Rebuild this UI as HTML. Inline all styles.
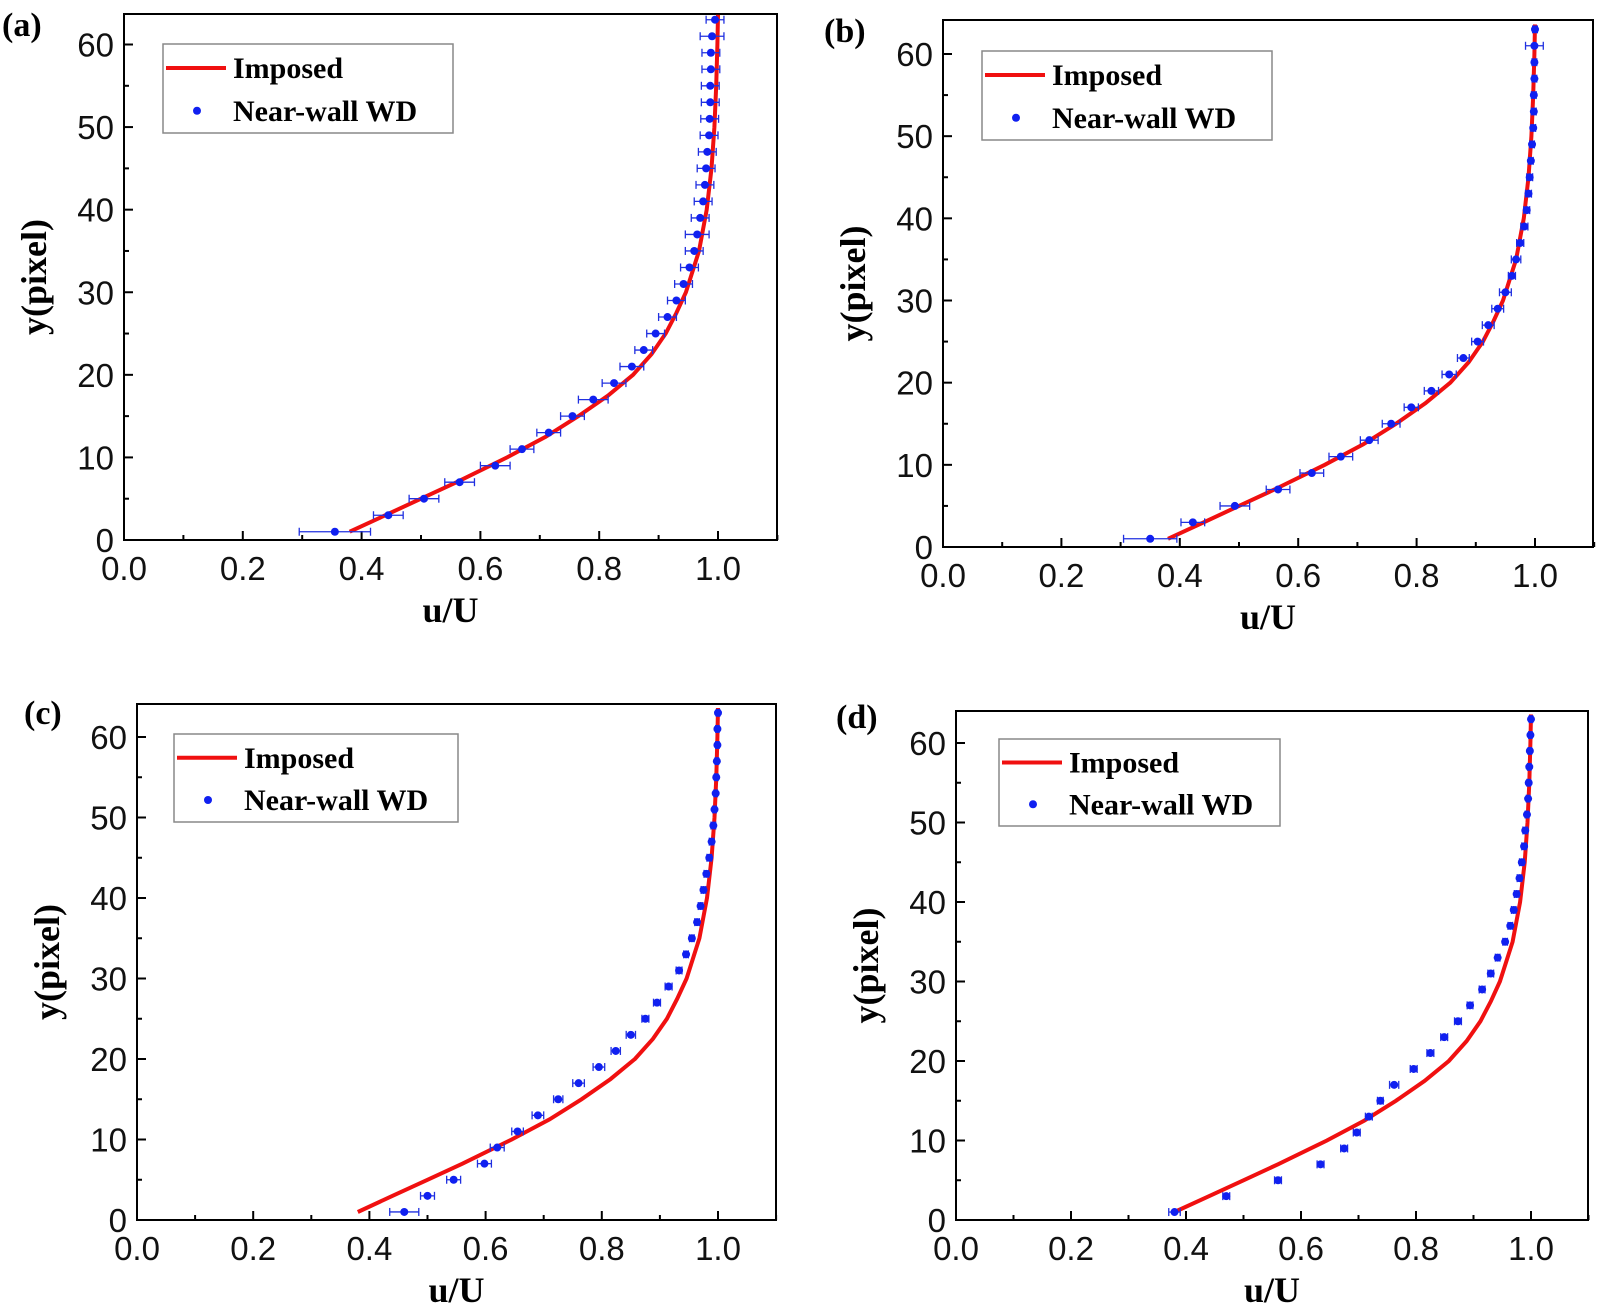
<!DOCTYPE html>
<html><head><meta charset="utf-8"><style>
html,body{margin:0;padding:0;background:#fff;}
svg{display:block;}
</style></head><body>
<svg id="s" width="1600" height="1307" xmlns="http://www.w3.org/2000/svg"></svg>
<script>
const S=document.getElementById('s');
let out='';
const imp=[[1,0.38],[3,0.44],[5,0.5],[7,0.56],[10,0.645],[12.5,0.71],[15,0.765],[17.5,0.815],[20,0.857],[22.5,0.888],[25,0.912],[27.5,0.93],[30,0.946],[35,0.968],[40,0.981],[45,0.989],[50,0.994],[55,0.997],[60,0.999],[63.6,1.0]];
const panels=[
 {lab:'(a)',lx:2,ly:36,L:124,R:777,T:14,B:540,x1:718,y60:44.5,leg:[163,44,453,133],
  pts:[[1,0.355,0.06],[3,0.445,0.025],[5,0.505,0.025],[7,0.565,0.025],[9,0.625,0.025],[11,0.67,0.02],[13,0.715,0.02],[15,0.755,0.02],[17,0.79,0.025],[19,0.825,0.02],[21,0.855,0.02],[23,0.875,0.015],[25,0.895,0.015],[27,0.915,0.015],[29,0.93,0.015],[31,0.942,0.015],[33,0.952,0.015],[35,0.96,0.015],[37,0.965,0.02],[39,0.97,0.015],[41,0.975,0.015],[43,0.978,0.015],[45,0.98,0.015],[47,0.982,0.015],[49,0.985,0.015],[51,0.986,0.015],[53,0.987,0.015],[55,0.987,0.015],[57,0.988,0.015],[59,0.988,0.015],[61,0.99,0.02],[63,0.995,0.015]]},
 {lab:'(b)',lx:824,ly:42,L:943,R:1593,T:20,B:547,x1:1535,y60:54,leg:[982,51,1272,140],
  pts:[[1,0.35,0.045],[3,0.422,0.02],[5,0.493,0.025],[7,0.566,0.02],[9,0.623,0.02],[11,0.672,0.02],[13,0.72,0.015],[15,0.757,0.015],[17,0.791,0.012],[19,0.825,0.012],[21,0.855,0.012],[23,0.879,0.01],[25,0.903,0.01],[27,0.921,0.01],[29,0.937,0.01],[31,0.95,0.01],[33,0.961,0.006],[35,0.968,0.008],[37,0.975,0.006],[39,0.982,0.006],[41,0.986,0.005],[43,0.989,0.005],[45,0.991,0.005],[47,0.993,0.004],[49,0.995,0.004],[51,0.997,0.004],[53,0.998,0.004],[55,0.998,0.004],[57,0.999,0.004],[59,0.999,0.004],[61,0.999,0.015],[63,1.0,0.004]]},
 {lab:'(c)',lx:24,ly:724,L:137,R:776,T:704,B:1220,x1:718,y60:737,leg:[174,734,458,822],
  pts:[[1,0.46,0.025],[3,0.5,0.012],[5,0.545,0.012],[7,0.598,0.012],[9,0.62,0.012],[11,0.655,0.01],[13,0.69,0.01],[15,0.725,0.008],[17,0.76,0.01],[19,0.795,0.01],[21,0.824,0.008],[23,0.85,0.008],[25,0.875,0.006],[27,0.895,0.006],[29,0.915,0.006],[31,0.933,0.005],[33,0.945,0.004],[35,0.955,0.004],[37,0.964,0.004],[39,0.97,0.004],[41,0.975,0.004],[43,0.98,0.004],[45,0.985,0.004],[47,0.989,0.004],[49,0.992,0.004],[51,0.994,0.003],[53,0.996,0.003],[55,0.997,0.003],[57,0.998,0.003],[59,0.999,0.003],[61,0.999,0.003],[63,1.0,0.003]]},
 {lab:'(d)',lx:836,ly:728,L:956,R:1588,T:711,B:1220,x1:1531,y60:743,leg:[999,739,1280,826],
  pts:[[1,0.38,0.01],[3,0.47,0.006],[5,0.56,0.006],[7,0.634,0.006],[9,0.675,0.006],[11,0.697,0.006],[13,0.718,0.006],[15,0.738,0.005],[17,0.762,0.008],[19,0.796,0.006],[21,0.825,0.006],[23,0.849,0.006],[25,0.873,0.006],[27,0.894,0.005],[29,0.915,0.005],[31,0.93,0.005],[33,0.942,0.004],[35,0.955,0.004],[37,0.964,0.004],[39,0.97,0.004],[41,0.975,0.004],[43,0.98,0.004],[45,0.984,0.004],[47,0.988,0.004],[49,0.99,0.004],[51,0.993,0.003],[53,0.995,0.003],[55,0.996,0.003],[57,0.997,0.003],[59,0.998,0.003],[61,0.999,0.003],[63,1.0,0.003]]}
];
for(const p of panels){
 const kx=(p.x1-p.L), ky=(p.B-p.y60)/60;
 const X=u=>p.L+u*kx, Y=y=>p.B-y*ky;
 out+=`<rect x="${p.L}" y="${p.T}" width="${p.R-p.L}" height="${p.B-p.T}" fill="none" stroke="#000" stroke-width="2"/>`;
 for(let i=0;i<=11;i++){const x=X(i*0.1);const len=i%2==0?9:5;
  out+=`<line x1="${x}" y1="${p.B}" x2="${x}" y2="${p.B-len}" stroke="#000" stroke-width="2"/>`;
  if(i%2==0) out+=`<text x="${x}" y="${p.B+40}" font-family="Liberation Sans,sans-serif" font-size="33" text-anchor="middle" fill="#111">${(i/10).toFixed(1)}</text>`;}
 for(let v=0;v<=60;v+=5){const y=Y(v);const len=v%10==0?9:5;
  out+=`<line x1="${p.L}" y1="${y}" x2="${p.L+len}" y2="${y}" stroke="#000" stroke-width="2"/>`;
  if(v%10==0) out+=`<text x="${p.L-10}" y="${y+12}" font-family="Liberation Sans,sans-serif" font-size="33" text-anchor="end" fill="#111">${v}</text>`;}
 const cx=(p.L+p.R)/2;
 out+=`<text x="${cx}" y="${p.B+82}" font-family="Liberation Serif,serif" font-weight="bold" font-size="36" text-anchor="middle">u/U</text>`;
 const ty=(p.T+p.B)/2;
 out+=`<text transform="translate(${p.L-78},${ty}) rotate(-90)" font-family="Liberation Serif,serif" font-weight="bold" font-size="36" text-anchor="middle">y(pixel)</text>`;
 out+=`<text x="${p.lx}" y="${p.ly}" font-family="Liberation Serif,serif" font-weight="bold" font-size="34">${p.lab}</text>`;
 out+=`<polyline fill="none" stroke="#f01010" stroke-width="4" points="${imp.map(q=>X(q[1]).toFixed(1)+','+Y(q[0]).toFixed(1)).join(' ')}"/>`;
 for(const q of p.pts){const x=X(q[1]),y=Y(q[0]),e=q[2]*kx;
  out+=`<line x1="${x-e}" y1="${y}" x2="${x+e}" y2="${y}" stroke="#2030e0" stroke-width="1.3"/><line x1="${x-e}" y1="${y-4}" x2="${x-e}" y2="${y+4}" stroke="#2030e0" stroke-width="1.3"/><line x1="${x+e}" y1="${y-4}" x2="${x+e}" y2="${y+4}" stroke="#2030e0" stroke-width="1.3"/><circle cx="${x}" cy="${y}" r="4" fill="#1020f0"/>`;}
 const [a,b,c,d]=p.leg;
 out+=`<rect x="${a}" y="${b}" width="${c-a}" height="${d-b}" fill="#fff" stroke="#888" stroke-width="1.5"/>`;
 const h=d-b;
 out+=`<line x1="${a+3}" y1="${b+h*0.27}" x2="${a+63}" y2="${b+h*0.27}" stroke="#f01010" stroke-width="4"/>`;
 out+=`<text x="${a+70}" y="${b+h*0.27+10}" font-family="Liberation Serif,serif" font-weight="bold" font-size="30">Imposed</text>`;
 out+=`<circle cx="${a+34}" cy="${b+h*0.75}" r="4" fill="#1020f0"/>`;
 out+=`<text x="${a+70}" y="${b+h*0.75+10}" font-family="Liberation Serif,serif" font-weight="bold" font-size="30">Near-wall WD</text>`;
}
S.innerHTML=out;
</script>
</body></html>
